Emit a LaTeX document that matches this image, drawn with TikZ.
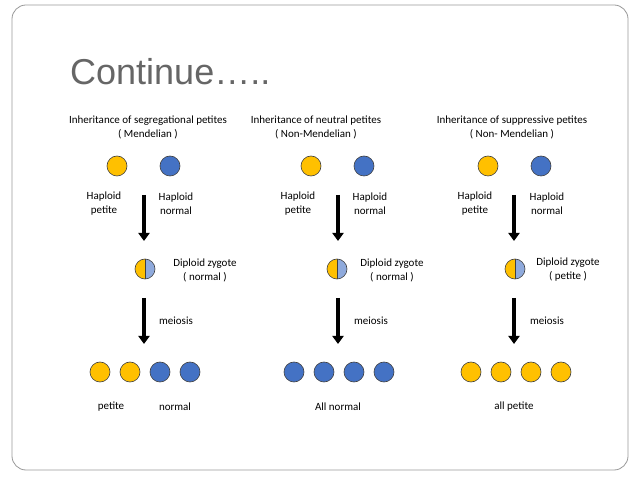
\documentclass[tikz,border=0pt]{standalone}
\usepackage{fontspec}
\setmainfont{Carlito}
\newfontfamily\titlefont{Liberation Sans}
\usetikzlibrary{arrows.meta}
\definecolor{yel}{HTML}{FFC000}
\definecolor{blu}{HTML}{4472C4}
\definecolor{lblu}{HTML}{8FAADC}
\begin{document}
\begin{tikzpicture}[x=1pt,y=-1pt,
  txt/.style={font=\fontsize{11}{14}\selectfont, align=center, inner sep=0pt},
  pet/.style={circle, fill=yel, draw=black!75, line width=0.6pt, minimum size=20pt, inner sep=0pt},
  nor/.style={circle, fill=blu, draw=black!75, line width=0.6pt, minimum size=20pt, inner sep=0pt},
  bigarrow/.style={line width=4pt, -{Triangle[length=8pt,width=11pt]}}]
\useasboundingbox (0,0) rectangle (638,478);
\draw[rounded corners=14pt, draw=black!40, line width=0.8pt] (12,5) rectangle (628,470);
\node[anchor=west, inner sep=0pt, text=black!60, font=\titlefont\fontsize{36}{40}\selectfont] (title) at (70,72) {Continue…..};
% headings
\node[txt] (h1) at (148,127) {Inheritance of segregational petites\\( Mendelian )};
\node[txt] (h2) at (316,127) {Inheritance of neutral petites\\( Non-Mendelian )};
\node[txt] (h3) at (512,127) {Inheritance of suppressive petites\\( Non- Mendelian )};
% haploid circles
\foreach \c/\xa/\xb/\xar in {1/117/170/144, 2/311/364/338, 3/488/541/514}{
  \node[pet] (p\c) at (\xa,166) {};
  \node[nor] (n\c) at (\xb,166) {};
  \node[txt] (lp\c) at (\xa-13,204) {Haploid\\petite};
  \node[txt] (ln\c) at (\xb+6,204) {Haploid\\normal};
  \coordinate (a\c s) at (\xar,195);
  \coordinate (a\c e) at (\xar,241);
  \draw[bigarrow] (a\c s) -- (a\c e);
  \coordinate (b\c s) at (\xar,298);
  \coordinate (b\c e) at (\xar,344);
  \draw[bigarrow] (b\c s) -- (b\c e);
}
% zygotes
\foreach \c/\x in {1/145,2/337,3/515}{
  \fill[yel] (\x,259) arc[start angle=90,end angle=270,radius=10pt] -- cycle;
  \fill[lblu] (\x,259) arc[start angle=90,end angle=-90,radius=10pt] -- cycle;
  \node[circle, draw=black!75, line width=0.6pt, minimum size=20pt, inner sep=0pt] (z\c) at (\x,269) {};
  \draw[black!75, line width=0.6pt] (\x,259) -- (\x,279);
}
\node[txt] (zl1) at (205,270) {Diploid zygote\\( normal )};
\node[txt] (zl2) at (392,270) {Diploid zygote\\( normal )};
\node[txt] (zl3) at (568,270) {Diploid zygote\\( petite )};
\node[txt] (m1) at (176,321) {meiosis};
\node[txt] (m2) at (371,321) {meiosis};
\node[txt] (m3) at (547,321) {meiosis};
% offspring
\node[pet] (o11) at (100,372) {};
\node[pet] (o12) at (130,372) {};
\node[nor] (o13) at (160,372) {};
\node[nor] (o14) at (190,372) {};
\node[nor] (o21) at (294,372) {};
\node[nor] (o22) at (324,372) {};
\node[nor] (o23) at (354,372) {};
\node[nor] (o24) at (384,372) {};
\node[pet] (o31) at (471,372) {};
\node[pet] (o32) at (501,372) {};
\node[pet] (o33) at (531,372) {};
\node[pet] (o34) at (561,372) {};
\node[txt] (r1a) at (111,407) {petite};
\node[txt] (r1b) at (175,407) {normal};
\node[txt] (r2) at (338,407) {All normal};
\node[txt] (r3) at (514,407) {all petite};
\end{tikzpicture}
\end{document}
